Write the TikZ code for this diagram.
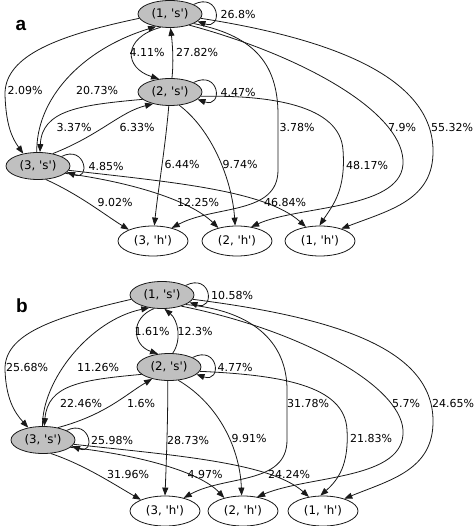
\documentclass[tikz,border=0pt]{standalone}
\usepackage{fontspec}
\setmainfont{DejaVu Sans}
\newfontfamily\panelfont{Liberation Sans}
\usetikzlibrary{arrows.meta,shapes.geometric}
\definecolor{ngray}{RGB}{192,192,192}
\definecolor{ln}{RGB}{25,25,25}
\newcommand{\sname}[1]{(#1, \textquotesingle s\textquotesingle)}
\newcommand{\hname}[1]{(#1, \textquotesingle h\textquotesingle)}
\begin{document}
\begin{tikzpicture}[x=1pt,y=-1pt,
  sn/.style={ellipse, draw=ln, fill=ngray, line width=0.8pt, minimum width=64pt, minimum height=27pt, inner sep=0pt, font=\fontsize{11.8}{12}\selectfont},
  hn/.style={ellipse, draw=ln, fill=white, line width=0.8pt, minimum width=70pt, minimum height=30pt, inner sep=0pt, font=\fontsize{11.8}{12}\selectfont},
  e/.style={draw=ln, line width=0.8pt, -{Triangle[length=8pt,width=6pt]}},
  lb/.style={font=\fontsize{11}{12}\selectfont, inner sep=0pt},
  pl/.style={font=\panelfont\bfseries\fontsize{19}{20}\selectfont, inner sep=0pt, anchor=base}]
\useasboundingbox (0,0) rectangle (474,526);
% ---------- panel a ----------
\node[pl] (pa) at (21,31) {a};
\node[sn] (a1s) at (170,14) {\sname{1}};
\node[sn] (a2s) at (170,92) {\sname{2}};
\node[sn] (a3s) at (38,166) {\sname{3}};
\node[hn] (a3h) at (153,241) {\hname{3}};
\node[hn] (a2h) at (237,241) {\hname{2}};
\node[hn] (a1h) at (320,241) {\hname{1}};

\draw[e] (a1s.22) .. controls +(26,-13) and +(26,9) .. (a1s.-15);
\draw[e] (a1s.235) .. controls (122,38) and (124,68) .. (a2s.130);
\draw[e] (a2s.82) .. controls (174,60) and (172,40) .. (a1s.-88);
\draw[e] (a1s.188) .. controls (60,35) and (4,55) .. (5,95) .. controls (6,125) and (12,138) .. (a3s.140);
\draw[e] (a3s.95) .. controls (36,100) and (80,50) .. (a1s.222);
\draw[e] (a2s.22) .. controls +(26,-13) and +(26,9) .. (a2s.-15);
\draw[e] (a2s.195) .. controls (80,105) and (42,110) .. (a3s.82);
\draw[e] (a3s.40) .. controls (100,135) and (120,112) .. (a2s.215);
\draw[e] (a3s.22) .. controls +(24,-12) and +(24,9) .. (a3s.-12);
\draw[e] (a2s.265) .. controls (165,150) and (158,190) .. (a3h.85);
\draw[e] (a2s.-55) .. controls (212,130) and (232,180) .. (a2h.97);
\draw[e] (a2s.-8) .. controls (270,95) and (340,105) .. (343,150) .. controls (346,190) and (333,205) .. (a1h.92);
\draw[e] (a1s.-22) .. controls (250,35) and (278,60) .. (278,115) -- (278,170) .. controls (278,215) and (215,205) .. (a3h.35);
\draw[e] (a1s.-30) .. controls (300,55) and (400,110) .. (403,160) .. controls (406,210) and (300,205) .. (a2h.45);
\draw[e] (a1s.-8) .. controls (340,40) and (432,80) .. (433,150) .. controls (434,200) and (390,210) .. (a1h.30);
\draw[e] (a3s.-60) .. controls (80,195) and (105,215) .. (a3h.155);
\draw[e] (a3s.-15) .. controls (130,182) and (190,200) .. (a2h.145);
\draw[e] (a3s.-8) .. controls (170,182) and (265,190) .. (a1h.135);

\node[lb] (la1) at (238,15) {26.8\%};
\node[lb] (la2) at (147,52) {4.11\%};
\node[lb] (la3) at (197,52) {27.82\%};
\node[lb] (la4) at (25,90) {2.09\%};
\node[lb] (la5) at (97,90) {20.73\%};
\node[lb] (la6) at (238,92) {4.47\%};
\node[lb] (la7) at (74,127) {3.37\%};
\node[lb] (la8) at (137,127) {6.33\%};
\node[lb] (la9) at (106,166) {4.85\%};
\node[lb] (la10) at (182,164) {6.44\%};
\node[lb] (la11) at (240,164) {9.74\%};
\node[lb] (la12) at (297,127) {3.78\%};
\node[lb] (la13) at (402,127) {7.9\%};
\node[lb] (la14) at (452,127) {55.32\%};
\node[lb] (la15) at (367,165) {48.17\%};
\node[lb] (la16) at (115,202) {9.02\%};
\node[lb] (la17) at (198,202) {12.25\%};
\node[lb] (la18) at (285,202) {46.84\%};

% ---------- panel b ----------
\node[pl] (pb) at (22,312) {b};
\node[sn] (b1s) at (162,295) {\sname{1}};
\node[sn] (b2s) at (169,367) {\sname{2}};
\node[sn] (b3s) at (43,440) {\sname{3}};
\node[hn] (b3h) at (165,511) {\hname{3}};
\node[hn] (b2h) at (243,511) {\hname{2}};
\node[hn] (b1h) at (323,511) {\hname{1}};

\draw[e] (b1s.22) .. controls +(26,-13) and +(26,9) .. (b1s.-15);
\draw[e] (b1s.240) .. controls (130,318) and (132,345) .. (b2s.130);
\draw[e] (b2s.75) .. controls (182,340) and (178,320) .. (b1s.-80);
\draw[e] (b1s.188) .. controls (50,318) and (4,335) .. (5,370) .. controls (6,398) and (14,412) .. (b3s.140);
\draw[e] (b3s.92) .. controls (42,380) and (90,320) .. (b1s.225);
\draw[e] (b2s.22) .. controls +(26,-13) and +(26,9) .. (b2s.-15);
\draw[e] (b2s.195) .. controls (80,380) and (48,385) .. (b3s.85);
\draw[e] (b3s.40) .. controls (105,415) and (125,395) .. (b2s.215);
\draw[e] (b3s.22) .. controls +(24,-12) and +(24,9) .. (b3s.-12);
\draw[e] (b2s.265) .. controls (168,420) and (166,470) .. (b3h.90);
\draw[e] (b2s.-55) .. controls (220,405) and (240,450) .. (b2h.95);
\draw[e] (b2s.-8) .. controls (280,375) and (345,385) .. (347,430) .. controls (349,465) and (338,480) .. (b1h.100);
\draw[e] (b1s.-22) .. controls (250,310) and (287,340) .. (287,390) -- (287,440) .. controls (287,485) and (225,475) .. (b3h.35);
\draw[e] (b1s.-30) .. controls (300,330) and (400,385) .. (403,430) .. controls (406,480) and (310,475) .. (b2h.45);
\draw[e] (b1s.-8) .. controls (340,318) and (432,350) .. (433,420) .. controls (434,470) and (390,480) .. (b1h.30);
\draw[e] (b3s.-60) .. controls (85,465) and (115,485) .. (b3h.155);
\draw[e] (b3s.-15) .. controls (140,455) and (200,472) .. (b2h.145);
\draw[e] (b3s.-8) .. controls (170,455) and (270,462) .. (b1h.135);

\node[lb] (lb1) at (232,295) {10.58\%};
\node[lb] (lb2) at (152,331) {1.61\%};
\node[lb] (lb3) at (195,331) {12.3\%};
\node[lb] (lb4) at (27,367) {25.68\%};
\node[lb] (lb5) at (98,367) {11.26\%};
\node[lb] (lb6) at (235,367) {4.77\%};
\node[lb] (lb7) at (81,403) {22.46\%};
\node[lb] (lb8) at (141,403) {1.6\%};
\node[lb] (lb9) at (112,440) {25.98\%};
\node[lb] (lb10) at (188,440) {28.73\%};
\node[lb] (lb11) at (249,438) {9.91\%};
\node[lb] (lb12) at (308,403) {31.78\%};
\node[lb] (lb13) at (406,403) {5.7\%};
\node[lb] (lb14) at (453,403) {24.65\%};
\node[lb] (lb15) at (371,438) {21.83\%};
\node[lb] (lb16) at (128,474) {31.96\%};
\node[lb] (lb17) at (205,474) {4.97\%};
\node[lb] (lb18) at (289,474) {24.24\%};
\end{tikzpicture}
\end{document}
